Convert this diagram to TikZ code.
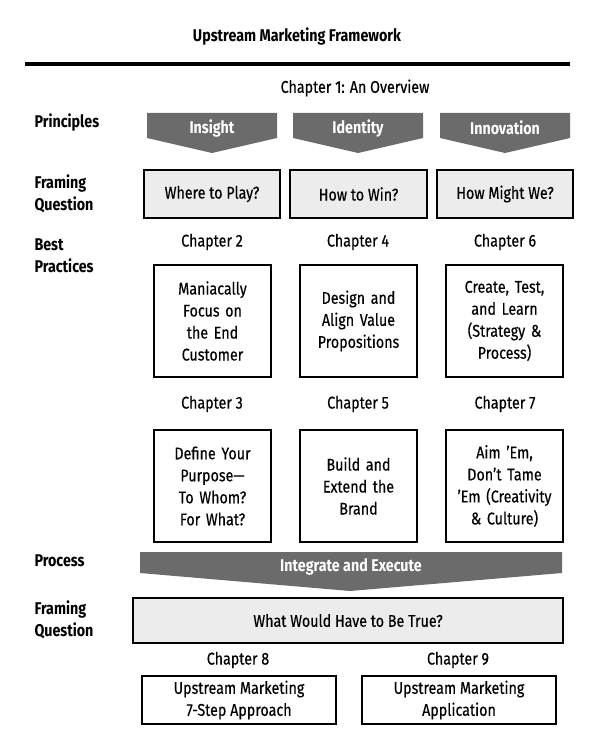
\documentclass[tikz,border=0pt]{standalone}
\usepackage{fontspec}
\setmainfont[FakeStretch=0.84,FakeBold=0.4,BoldFeatures={FakeBold=0}]{Fira Sans}
\usetikzlibrary{positioning}
\definecolor{chev}{HTML}{6B6B6B}
\definecolor{qfill}{HTML}{ECECEC}
\begin{document}
\begin{tikzpicture}[x=1pt,y=-1pt,font=\fontsize{17}{22}\selectfont]
    \tikzset{
        lbl/.style={anchor=west, align=left, font=\fontsize{17}{21.5}\selectfont\bfseries},
        chap/.style={inner sep=0},
        qbox/.style={draw, line width=1.3pt, fill=qfill, minimum height=48, inner sep=0},
        pbox/.style={draw, line width=1.3pt, minimum width=117, minimum height=112, text width=110, align=center, inner sep=0},
        sbox/.style={draw, line width=1.1pt, minimum width=194, minimum height=48, align=center, inner sep=0},
        chevron/.style={fill=chev, draw=none},
        chevtext/.style={text=white, font=\fontsize{17}{20}\selectfont\bfseries}
    }
    \useasboundingbox (0,0) rectangle (600,751);

    \draw node[font=\fontsize{17}{20}\selectfont\bfseries] (title) at (297,36) {Upstream Marketing Framework};
    \draw[line width=4pt] (25,64) -- (570,64);
    \draw node[chap] (c1) at (355,88) {Chapter 1: An Overview};

    % row labels
    \draw node[lbl] (l1) at (31,122) {Principles};
    \draw node[lbl] (l2) at (31,194) {Framing\\Question};
    \draw node[lbl] (l3) at (31,256) {Best\\Practices};
    \draw node[lbl] (l4) at (31,561) {Process};
    \draw node[lbl] (l5) at (31,620) {Framing\\Question};

    % principles
    \foreach \x/\t/\n in {212/Insight/p1, 358/Identity/p2, 505/Innovation/p3}{
        \fill[chevron] (\x-65,113) -- (\x+65,113) -- (\x+65,138) -- (\x,153) -- (\x-65,138) -- cycle;
        \draw node[chevtext] (\n) at (\x,128) {\t};
    }

    % framing questions
    \draw node[qbox, minimum width=136] (q1) at (212,194) {Where to Play?};
    \draw node[qbox, minimum width=137] (q2) at (358.5,194) {How to Win?};
    \draw node[qbox, minimum width=136] (q3) at (505,194) {How Might We?};

    % best practices
    \draw node[chap] (c2) at (212,242) {Chapter 2};
    \draw node[chap] (c4) at (358,242) {Chapter 4};
    \draw node[chap] (c6) at (505,242) {Chapter 6};
    \draw node[pbox] (b2) at (212.5,321) {Maniacally\\Focus on\\the End\\Customer};
    \draw node[pbox] (b4) at (358.5,321) {Design and\\Align Value\\Propositions};
    \draw node[pbox] (b6) at (504.5,321) {Create, Test,\\and Learn\\(Strategy \&\\Process)};

    \draw node[chap] (c3) at (212,404) {Chapter 3};
    \draw node[chap] (c5) at (358,404) {Chapter 5};
    \draw node[chap] (c7) at (505,404) {Chapter 7};
    \draw node[pbox] (b3) at (212.5,486) {Define Your\\Purpose---\\To Whom?\\For What?};
    \draw node[pbox] (b5) at (358.5,486) {Build and\\Extend the\\Brand};
    \draw node[pbox] (b7) at (504.5,486) {Aim 'Em,\\Don't Tame\\'Em (Creativity\\\& Culture)};

    % process
    \fill[chevron] (140,552) -- (562,552) -- (562,573) -- (350,591) -- (140,573) -- cycle;
    \draw node[chevtext] (pr) at (351,567) {Integrate and Execute};
    \draw node[qbox, minimum width=430, minimum height=45] (q4) at (348,620.5) {What Would Have to Be True?};

    \draw node[chap] (c8) at (238,660) {Chapter 8};
    \draw node[chap] (c9) at (458,660) {Chapter 9};
    \draw node[sbox] (s8) at (239,700) {Upstream Marketing\\7-Step Approach};
    \draw node[sbox] (s9) at (459,700) {Upstream Marketing\\Application};
\end{tikzpicture}
\end{document}
